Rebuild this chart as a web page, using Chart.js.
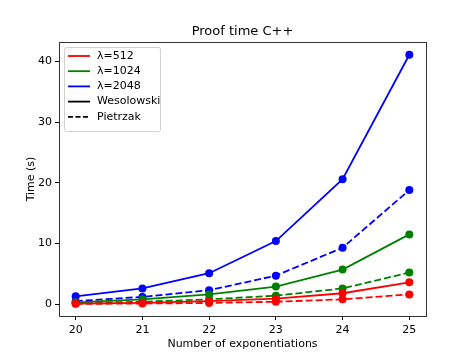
<!DOCTYPE html>
<html><head><meta charset="utf-8">
<script src="https://cdn.jsdelivr.net/npm/chart.js"></script>
<style>html,body{margin:0;padding:0;background:#fff}#c{display:block}</style>
</head><body>
<div style="width:474px;height:355px"><canvas id="c" width="474" height="355"></canvas></div>
<script>
const xValues = [20, 21, 22, 23, 24, 25];
const yTicks = [0, 10, 20, 30, 40];
const wes512 = [0.1, 0.2, 0.5, 0.9, 1.8, 3.6];
const pie512 = [0.05, 0.1, 0.2, 0.4, 0.8, 1.6];
const wes1024 = [0.3, 0.8, 1.6, 2.9, 5.7, 11.5];
const pie1024 = [0.2, 0.4, 0.8, 1.4, 2.6, 5.2];
const wes2048 = [1.3, 2.6, 5.1, 10.4, 20.6, 41.1];
const pie2048 = [0.5, 1.2, 2.3, 4.7, 9.3, 18.8];
const chartTitle = 'Proof time C++';
const legendLabels = ['λ=512', 'λ=1024', 'λ=2048', 'Wesolowski', 'Pietrzak'];
const legendColors = ['#ff0000', '#008000', '#0000ff', '#000000', '#000000'];
const legendDashed = [false, false, false, false, true];

const FONT = "'DejaVu Sans', sans-serif";
Chart.defaults.font.family = FONT;
Chart.defaults.color = '#000';

function ds(data, color, dashed) {
  return {
    data: xValues.map((x, i) => ({x, y: data[i]})),
    borderColor: color, backgroundColor: color,
    borderWidth: 1.8, borderDash: dashed ? [7, 3] : [],
    pointRadius: 4, pointBorderWidth: 0, pointHoverRadius: 4,
    tension: 0, fill: false
  };
}

const frame = {
  id: 'frame',
  afterDraw(chart) {
    const {ctx, chartArea: a} = chart;
    ctx.save();
    ctx.strokeStyle = '#333'; ctx.lineWidth = 1;
    ctx.strokeRect(Math.round(a.left) + 0.5, Math.round(a.top) + 0.5, Math.round(a.right - a.left), Math.round(a.bottom - a.top));
    // title centred over the plot area
    ctx.fillStyle = '#000';
    ctx.font = '13px ' + FONT;
    ctx.textAlign = 'center'; ctx.textBaseline = 'middle';
    ctx.fillText(chartTitle, (a.left + a.right) / 2, a.top - 10);
    // legend
    ctx.textAlign = 'left';
    const bx = a.left + 5, by = a.top + 5, bw = 96, rowH = 15.2, bh = 10 + rowH * legendLabels.length - 2;
    ctx.fillStyle = 'rgba(255,255,255,0.8)';
    ctx.strokeStyle = '#d0d0d0';
    ctx.beginPath();
    ctx.roundRect(bx + 0.5, by + 0.5, bw, bh, 2);
    ctx.fill(); ctx.stroke();
    ctx.font = '11px ' + FONT;
    legendLabels.forEach((t, i) => {
      const y = by + 9 + i * rowH;
      ctx.strokeStyle = legendColors[i];
      ctx.lineWidth = 1.8;
      ctx.setLineDash(legendDashed[i] ? [5, 2.5] : []);
      ctx.beginPath(); ctx.moveTo(bx + 4, y); ctx.lineTo(bx + 26, y); ctx.stroke();
      ctx.setLineDash([]);
      ctx.fillStyle = '#000';
      ctx.fillText(t, bx + 33, y);
    });
    ctx.restore();
  }
};

new Chart(document.getElementById('c'), {
  type: 'line',
  data: {
    datasets: [
      ds(wes512, '#ff0000', false), ds(pie512, '#ff0000', true),
      ds(wes1024, '#008000', false), ds(pie1024, '#008000', true),
      ds(wes2048, '#0000ff', false), ds(pie2048, '#0000ff', true)
    ]
  },
  options: {
    responsive: false, animation: false,
    layout: {padding: {left: 0, right: 48, top: 42, bottom: 0}},
    plugins: {
      legend: {display: false}, tooltip: {enabled: false}, title: {display: false}
    },
    scales: {
      x: {
        type: 'linear', min: 19.75, max: 25.25,
        afterBuildTicks: s => { s.ticks = xValues.map(v => ({value: v})); },
        afterFit: s => { s.height = 39; },
        grid: {drawOnChartArea: false, drawTicks: true, tickLength: 4, color: '#000'},
        border: {display: false},
        ticks: {font: {size: 11}, padding: 4, color: '#000', maxRotation: 0},
        title: {display: true, text: 'Number of exponentiations', font: {size: 11}, padding: {top: 1}, color: '#000'}
      },
      y: {
        type: 'linear', min: -1.95, max: 43.2,
        afterBuildTicks: s => { s.ticks = yTicks.map(v => ({value: v})); },
        afterFit: s => { s.width = 59; },
        grid: {drawOnChartArea: false, drawTicks: true, tickLength: 4, color: '#000'},
        border: {display: false},
        ticks: {font: {size: 11}, padding: 3, color: '#000'},
        title: {display: true, text: 'Time (s)', font: {size: 11}, padding: {top: 25, bottom: 0}, color: '#000'}
      }
    }
  },
  plugins: [frame]
});
</script>
</body></html>
